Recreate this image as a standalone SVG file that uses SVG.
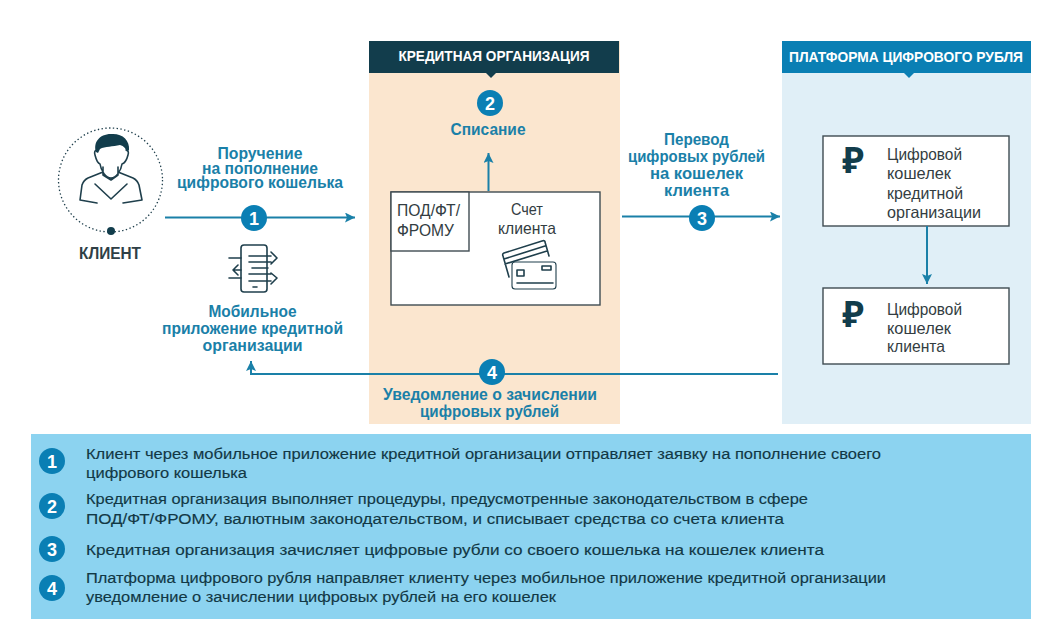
<svg xmlns="http://www.w3.org/2000/svg" width="1057" height="633" viewBox="0 0 1057 633">
<style>
text{font-family:"Liberation Sans","Noto Sans",sans-serif}
.lb{font-size:16px;font-weight:700;fill:#1a80a8;text-anchor:middle}
.hd{font-size:15.5px;font-weight:700;fill:#fff;text-anchor:middle}
.bx{font-size:16.5px;fill:#333d42}
.lg{font-size:15.5px;fill:#123845;stroke:#123845;stroke-width:.15}
.n{font-size:18px;font-weight:700;fill:#fff;text-anchor:middle}
.num{fill:#0a7fb4}
.c{fill:none;stroke:#1a80a8;stroke-width:2}
.ic{fill:none;stroke:#1f3f4c;stroke-width:1.6;stroke-linecap:round;stroke-linejoin:round}
.box{fill:#fff;stroke:#3f4c52;stroke-width:1.4}
.rub{font-family:"Noto Sans",sans-serif;font-size:36px;font-weight:700;fill:#123d4c;text-anchor:middle}
</style>
<defs>
<marker id="a" markerWidth="11" markerHeight="10" refX="10" refY="5" orient="auto" markerUnits="userSpaceOnUse"><path d="M0 0L10 5L0 10L2 5Z" fill="#1a80a8"/></marker>
</defs>
<rect width="1057" height="633" fill="#fff"/>
<g id="credit-org">
<rect x="369" y="41" width="251" height="383" fill="#fbe6cf"/>
<rect x="369" y="41" width="250" height="32" fill="#123d4c"/>
<path d="M486 73h10l-5 5z" fill="#123d4c"/>
<text class="hd" x="494" y="61" textLength="191" lengthAdjust="spacingAndGlyphs">КРЕДИТНАЯ ОРГАНИЗАЦИЯ</text>
</g>
<g id="platform">
<rect x="782" y="41" width="249" height="383" fill="#e0eff7"/>
<rect x="782" y="41" width="249" height="32" fill="#0a7fb4"/>
<path d="M904 73h10l-5 5z" fill="#0a7fb4"/>
<text class="hd" x="906" y="62" textLength="234" lengthAdjust="spacingAndGlyphs">ПЛАТФОРМА ЦИФРОВОГО РУБЛЯ</text>
</g>
<g id="client">
<circle cx="110.500" cy="180" r="52" fill="none" stroke="#1f3f4c" stroke-width="1.300" stroke-dasharray="1.400 2.400"/>
<circle cx="111" cy="231" r="4" fill="#123d4c"/>
<path class="ic" stroke-width="2.200" d="M97 150c-2 0-3 2-2 5 1 4 2 8 5 9 1 7 6 14 11 14s10-7 11-14c3-1 5-5 6-9 1-3 0-5-2-5M103 167v8l8 5 7-5v-8M103 172l-15 6c-4 2-5 4-6 7l-2 15 17 3M118 172l15 6c4 2 5 4 6 7l3 15-19 3M95 184l16 15 16-15"/>
<path d="M96 152c-3-9 3-18 15-18 11-1 19 6 18 16l-2 2c-1-3-3-6-7-7-7 2-15 1-20 4l-2 4z" fill="#123d4c"/>
<text x="110" y="259" font-size="16.500" font-weight="700" fill="#2f3f46" text-anchor="middle" textLength="62" lengthAdjust="spacingAndGlyphs">КЛИЕНТ</text>
</g>
<g id="mobile-app">
<rect x="241" y="245" width="26" height="47" rx="3" class="ic"/>
<path class="ic" d="M253 287h4M229 258h12M229 278h12M238 265l-5 5 5 5M233 270h8M249 256h22M271 252l6 6-6 6M249 262h22M252 268h16M249 274h22M271 273l6 5-6 6M249 281h22" stroke-width="1.500"/>
</g>
<g id="labels">
<text class="lb" x="260" y="159" textLength="85" lengthAdjust="spacingAndGlyphs">Поручение</text>
<text class="lb" x="260" y="173.500" textLength="116" lengthAdjust="spacingAndGlyphs">на пополнение</text>
<text class="lb" x="260" y="188" textLength="166" lengthAdjust="spacingAndGlyphs">цифрового кошелька</text>
<text class="lb" x="252.500" y="317" textLength="88" lengthAdjust="spacingAndGlyphs">Мобильное</text>
<text class="lb" x="252.500" y="334" textLength="181" lengthAdjust="spacingAndGlyphs">приложение кредитной</text>
<text class="lb" x="252.500" y="351" textLength="100" lengthAdjust="spacingAndGlyphs">организации</text>
<text class="lb" x="488" y="135" textLength="75" lengthAdjust="spacingAndGlyphs">Списание</text>
<text class="lb" x="696.500" y="145" textLength="65" lengthAdjust="spacingAndGlyphs">Перевод</text>
<text class="lb" x="696.500" y="162" textLength="137" lengthAdjust="spacingAndGlyphs">цифровых рублей</text>
<text class="lb" x="696.500" y="179" textLength="93" lengthAdjust="spacingAndGlyphs">на кошелек</text>
<text class="lb" x="696.500" y="196" textLength="65" lengthAdjust="spacingAndGlyphs">клиента</text>
<text class="lb" x="490" y="400" textLength="214" lengthAdjust="spacingAndGlyphs">Уведомление о зачислении</text>
<text class="lb" x="489.500" y="417" textLength="139" lengthAdjust="spacingAndGlyphs">цифровых рублей</text>
</g>
<g id="account">
<rect x="391" y="192" width="209" height="113" class="box"/>
<rect x="391" y="192" width="78" height="59" class="box"/>
<text class="bx" x="397" y="216" textLength="63" lengthAdjust="spacingAndGlyphs">ПОД/ФТ/</text>
<text class="bx" x="397" y="236" textLength="57" lengthAdjust="spacingAndGlyphs">ФРОМУ</text>
<text class="bx" x="527" y="215" text-anchor="middle" textLength="32" lengthAdjust="spacingAndGlyphs">Счет</text>
<text class="bx" x="527" y="234" text-anchor="middle" textLength="58" lengthAdjust="spacingAndGlyphs">клиента</text>
<path class="ic" d="M509 277l-6-21q-1-2 1-3l38-12q3-1 3 1l4 14M504 259l41-13M505 264l42-13" stroke-width="1.100"/>
<rect x="512" y="262" width="44" height="27" rx="3" fill="#fff" stroke="#1f3f4c" stroke-width="1.100"/>
<path class="ic" d="M517 270h7v6h-7zM542 266h9v4h-9zM517 283h36" stroke-width="1.100"/>
</g>
<g id="wallet-org">
<rect x="823" y="136" width="186" height="90" class="box"/>
<text class="rub" x="853" y="173">₽</text>
<text class="bx" x="887" y="160" textLength="75" lengthAdjust="spacingAndGlyphs">Цифровой</text>
<text class="bx" x="887" y="179" textLength="64" lengthAdjust="spacingAndGlyphs">кошелек</text>
<text class="bx" x="887" y="199" textLength="76" lengthAdjust="spacingAndGlyphs">кредитной</text>
<text class="bx" x="887" y="218" textLength="94" lengthAdjust="spacingAndGlyphs">организации</text>
</g>
<g id="wallet-client">
<rect x="823" y="288" width="186" height="76" class="box"/>
<text class="rub" x="853" y="327">₽</text>
<text class="bx" x="887" y="315" textLength="75" lengthAdjust="spacingAndGlyphs">Цифровой</text>
<text class="bx" x="887" y="333.500" textLength="64" lengthAdjust="spacingAndGlyphs">кошелек</text>
<text class="bx" x="887" y="352" textLength="58" lengthAdjust="spacingAndGlyphs">клиента</text>
</g>
<g id="connectors">
<path class="c" d="M165 217.500H355" marker-end="url(#a)"/>
<path class="c" d="M488.500 191V153" marker-end="url(#a)"/>
<path class="c" d="M622 216.500H780" marker-end="url(#a)"/>
<path class="c" d="M927 226V284" marker-end="url(#a)" stroke-width="1.600"/>
<path class="c" d="M778 374H251V361" marker-end="url(#a)"/>
</g>
<g id="steps">
<circle class="num" cx="254" cy="218" r="13"/><text class="n" x="254" y="224.500">1</text>
<circle class="num" cx="490" cy="103" r="13"/><text class="n" x="490" y="109.500">2</text>
<circle class="num" cx="702" cy="218" r="13"/><text class="n" x="702" y="224.500">3</text>
<circle class="num" cx="492" cy="372" r="13"/><text class="n" x="492" y="378.500">4</text>
</g>
<g id="legend">
<rect x="31" y="434" width="1000" height="185" fill="#8cd3f0"/>
<circle class="num" cx="52" cy="461" r="13"/><text class="n" x="52" y="467.500">1</text>
<circle class="num" cx="52" cy="506" r="13"/><text class="n" x="52" y="512.500">2</text>
<circle class="num" cx="52" cy="549" r="13"/><text class="n" x="52" y="555.500">3</text>
<circle class="num" cx="52" cy="588" r="13"/><text class="n" x="52" y="594.500">4</text>
<text class="lg" x="86" y="459" textLength="795" lengthAdjust="spacingAndGlyphs">Клиент через мобильное приложение кредитной организации отправляет заявку на пополнение своего</text>
<text class="lg" x="86" y="478" textLength="161" lengthAdjust="spacingAndGlyphs">цифрового кошелька</text>
<text class="lg" x="86" y="504" textLength="722" lengthAdjust="spacingAndGlyphs">Кредитная организация выполняет процедуры, предусмотренные законодательством в сфере</text>
<text class="lg" x="86" y="524" textLength="698" lengthAdjust="spacingAndGlyphs">ПОД/ФТ/ФРОМУ, валютным законодательством, и списывает средства со счета клиента</text>
<text class="lg" x="86" y="555" textLength="738" lengthAdjust="spacingAndGlyphs">Кредитная организация зачисляет цифровые рубли со своего кошелька на кошелек клиента</text>
<text class="lg" x="86" y="583" textLength="800" lengthAdjust="spacingAndGlyphs">Платформа цифрового рубля направляет клиенту через мобильное приложение кредитной организации</text>
<text class="lg" x="86" y="602" textLength="470" lengthAdjust="spacingAndGlyphs">уведомление о зачислении цифровых рублей на его кошелек</text>
</g>
</svg>
